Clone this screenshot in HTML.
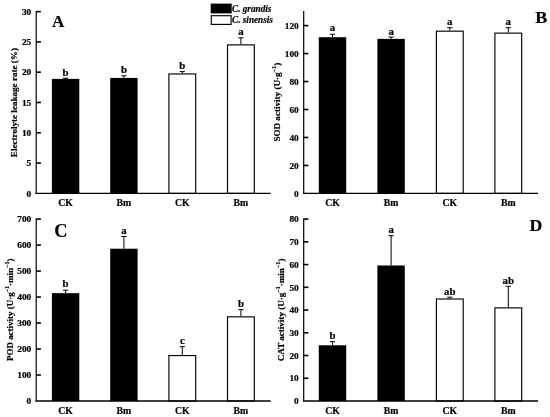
<!DOCTYPE html>
<html><head><meta charset="utf-8"><title>Figure</title>
<style>
html,body{margin:0;padding:0;background:#fff;}
svg{display:block;}
svg text{font-family:"Liberation Serif", "DejaVu Serif", serif;font-weight:bold;fill:#000;stroke:#000;stroke-width:0.2px;}
</style></head>
<body>
<svg width="550" height="417" viewBox="0 0 550 417">
<rect x="0" y="0" width="550" height="417" fill="#fff"/>
<rect x="51.90" y="78.87" width="27.40" height="114.53" fill="#000"/>
<line x1="65.60" y1="78.87" x2="65.60" y2="78.20" stroke="#000" stroke-width="1.0"/>
<line x1="63.00" y1="78.20" x2="68.20" y2="78.20" stroke="#000" stroke-width="1.0"/>
<text transform="translate(65.60,75.50) scale(1.0,1)" font-size="10.8" text-anchor="middle"  >b</text>
<rect x="110.20" y="77.96" width="27.40" height="115.44" fill="#000"/>
<line x1="123.90" y1="77.96" x2="123.90" y2="75.80" stroke="#000" stroke-width="1.0"/>
<line x1="121.30" y1="75.80" x2="126.50" y2="75.80" stroke="#000" stroke-width="1.0"/>
<text transform="translate(123.90,72.50) scale(1.0,1)" font-size="10.8" text-anchor="middle"  >b</text>
<rect x="168.90" y="73.96" width="26.80" height="119.44" fill="#fff" stroke="#000" stroke-width="1.15"/>
<line x1="182.30" y1="73.41" x2="182.30" y2="71.60" stroke="#000" stroke-width="1.0"/>
<line x1="179.70" y1="71.60" x2="184.90" y2="71.60" stroke="#000" stroke-width="1.0"/>
<text transform="translate(182.30,69.00) scale(1.0,1)" font-size="10.8" text-anchor="middle"  >b</text>
<rect x="227.50" y="44.87" width="26.80" height="148.53" fill="#fff" stroke="#000" stroke-width="1.15"/>
<line x1="240.90" y1="44.32" x2="240.90" y2="37.80" stroke="#000" stroke-width="1.0"/>
<line x1="238.30" y1="37.80" x2="243.50" y2="37.80" stroke="#000" stroke-width="1.0"/>
<text transform="translate(240.90,35.20) scale(1.0,1)" font-size="10.8" text-anchor="middle"  >a</text>
<line x1="36.20" y1="11.00" x2="36.20" y2="193.90" stroke="#000" stroke-width="1.2"/>
<line x1="35.60" y1="193.40" x2="270.70" y2="193.40" stroke="#000" stroke-width="1.4"/>
<text transform="translate(31.30,196.60) scale(1.08,1)" font-size="8.7" text-anchor="end"  >0</text>
<line x1="36.20" y1="163.10" x2="40.90" y2="163.10" stroke="#000" stroke-width="1.6"/>
<text transform="translate(31.30,166.30) scale(1.08,1)" font-size="8.7" text-anchor="end"  >5</text>
<line x1="36.20" y1="132.80" x2="40.90" y2="132.80" stroke="#000" stroke-width="1.6"/>
<text transform="translate(31.30,136.00) scale(1.08,1)" font-size="8.7" text-anchor="end"  >10</text>
<line x1="36.20" y1="102.50" x2="40.90" y2="102.50" stroke="#000" stroke-width="1.6"/>
<text transform="translate(31.30,105.70) scale(1.08,1)" font-size="8.7" text-anchor="end"  >15</text>
<line x1="36.20" y1="72.20" x2="40.90" y2="72.20" stroke="#000" stroke-width="1.6"/>
<text transform="translate(31.30,75.40) scale(1.08,1)" font-size="8.7" text-anchor="end"  >20</text>
<line x1="36.20" y1="41.90" x2="40.90" y2="41.90" stroke="#000" stroke-width="1.6"/>
<text transform="translate(31.30,45.10) scale(1.08,1)" font-size="8.7" text-anchor="end"  >25</text>
<line x1="36.20" y1="11.60" x2="40.90" y2="11.60" stroke="#000" stroke-width="1.6"/>
<text transform="translate(31.30,14.80) scale(1.08,1)" font-size="8.7" text-anchor="end"  >30</text>
<text transform="translate(65.60,206.30) scale(1.02,1)" font-size="9.6" text-anchor="middle"  >CK</text>
<text transform="translate(123.90,206.30) scale(1.02,1)" font-size="9.6" text-anchor="middle"  >Bm</text>
<text transform="translate(182.30,206.30) scale(1.02,1)" font-size="9.6" text-anchor="middle"  >CK</text>
<text transform="translate(240.90,206.30) scale(1.02,1)" font-size="9.6" text-anchor="middle"  >Bm</text>
<text transform="translate(17.30,102.60) rotate(-90) scale(1.046,1)" font-size="8.7" text-anchor="middle">Electrolyte leakage rate (%)</text>
<rect x="318.80" y="37.19" width="27.40" height="156.21" fill="#000"/>
<line x1="332.50" y1="37.19" x2="332.50" y2="34.30" stroke="#000" stroke-width="1.0"/>
<line x1="329.90" y1="34.30" x2="335.10" y2="34.30" stroke="#000" stroke-width="1.0"/>
<text transform="translate(332.50,31.20) scale(1.0,1)" font-size="10.8" text-anchor="middle"  >a</text>
<rect x="377.40" y="38.87" width="27.40" height="154.53" fill="#000"/>
<line x1="391.10" y1="38.87" x2="391.10" y2="37.00" stroke="#000" stroke-width="1.0"/>
<line x1="388.50" y1="37.00" x2="393.70" y2="37.00" stroke="#000" stroke-width="1.0"/>
<text transform="translate(391.10,34.80) scale(1.0,1)" font-size="10.8" text-anchor="middle"  >a</text>
<rect x="436.40" y="31.17" width="26.80" height="162.23" fill="#fff" stroke="#000" stroke-width="1.15"/>
<line x1="449.80" y1="30.62" x2="449.80" y2="27.70" stroke="#000" stroke-width="1.0"/>
<line x1="447.20" y1="27.70" x2="452.40" y2="27.70" stroke="#000" stroke-width="1.0"/>
<text transform="translate(449.80,25.00) scale(1.0,1)" font-size="10.8" text-anchor="middle"  >a</text>
<rect x="494.90" y="33.13" width="26.80" height="160.27" fill="#fff" stroke="#000" stroke-width="1.15"/>
<line x1="508.30" y1="32.58" x2="508.30" y2="27.70" stroke="#000" stroke-width="1.0"/>
<line x1="505.70" y1="27.70" x2="510.90" y2="27.70" stroke="#000" stroke-width="1.0"/>
<text transform="translate(508.30,25.00) scale(1.0,1)" font-size="10.8" text-anchor="middle"  >a</text>
<line x1="303.70" y1="11.00" x2="303.70" y2="193.90" stroke="#000" stroke-width="1.2"/>
<line x1="303.10" y1="193.40" x2="538.00" y2="193.40" stroke="#000" stroke-width="1.4"/>
<text transform="translate(298.80,196.60) scale(1.08,1)" font-size="8.7" text-anchor="end"  >0</text>
<line x1="303.70" y1="165.43" x2="308.40" y2="165.43" stroke="#000" stroke-width="1.6"/>
<text transform="translate(298.80,168.63) scale(1.08,1)" font-size="8.7" text-anchor="end"  >20</text>
<line x1="303.70" y1="137.46" x2="308.40" y2="137.46" stroke="#000" stroke-width="1.6"/>
<text transform="translate(298.80,140.66) scale(1.08,1)" font-size="8.7" text-anchor="end"  >40</text>
<line x1="303.70" y1="109.49" x2="308.40" y2="109.49" stroke="#000" stroke-width="1.6"/>
<text transform="translate(298.80,112.69) scale(1.08,1)" font-size="8.7" text-anchor="end"  >60</text>
<line x1="303.70" y1="81.52" x2="308.40" y2="81.52" stroke="#000" stroke-width="1.6"/>
<text transform="translate(298.80,84.72) scale(1.08,1)" font-size="8.7" text-anchor="end"  >80</text>
<line x1="303.70" y1="53.55" x2="308.40" y2="53.55" stroke="#000" stroke-width="1.6"/>
<text transform="translate(298.80,56.75) scale(1.08,1)" font-size="8.7" text-anchor="end"  >100</text>
<line x1="303.70" y1="25.58" x2="308.40" y2="25.58" stroke="#000" stroke-width="1.6"/>
<text transform="translate(298.80,28.78) scale(1.08,1)" font-size="8.7" text-anchor="end"  >120</text>
<text transform="translate(332.50,206.30) scale(1.02,1)" font-size="9.6" text-anchor="middle"  >CK</text>
<text transform="translate(391.10,206.30) scale(1.02,1)" font-size="9.6" text-anchor="middle"  >Bm</text>
<text transform="translate(449.80,206.30) scale(1.02,1)" font-size="9.6" text-anchor="middle"  >CK</text>
<text transform="translate(508.30,206.30) scale(1.02,1)" font-size="9.6" text-anchor="middle"  >Bm</text>
<text transform="translate(279.80,102.20) rotate(-90) scale(1.046,1)" font-size="8.7" text-anchor="middle">SOD activity (U·g<tspan font-size="5.9" dy="-3.6">−1</tspan><tspan dy="3.6" font-size="8.7">)</tspan></text>
<rect x="51.90" y="293.16" width="27.40" height="107.84" fill="#000"/>
<line x1="65.60" y1="293.16" x2="65.60" y2="290.20" stroke="#000" stroke-width="1.0"/>
<line x1="63.00" y1="290.20" x2="68.20" y2="290.20" stroke="#000" stroke-width="1.0"/>
<text transform="translate(65.60,287.20) scale(1.0,1)" font-size="10.8" text-anchor="middle"  >b</text>
<rect x="110.20" y="248.72" width="27.40" height="152.28" fill="#000"/>
<line x1="123.90" y1="248.72" x2="123.90" y2="236.50" stroke="#000" stroke-width="1.0"/>
<line x1="121.30" y1="236.50" x2="126.50" y2="236.50" stroke="#000" stroke-width="1.0"/>
<text transform="translate(123.90,233.60) scale(1.0,1)" font-size="10.8" text-anchor="middle"  >a</text>
<rect x="168.90" y="355.56" width="26.80" height="45.44" fill="#fff" stroke="#000" stroke-width="1.15"/>
<line x1="182.30" y1="355.01" x2="182.30" y2="346.70" stroke="#000" stroke-width="1.0"/>
<line x1="179.70" y1="346.70" x2="184.90" y2="346.70" stroke="#000" stroke-width="1.0"/>
<text transform="translate(182.30,344.00) scale(1.0,1)" font-size="10.8" text-anchor="middle"  >c</text>
<rect x="227.50" y="316.84" width="26.80" height="84.16" fill="#fff" stroke="#000" stroke-width="1.15"/>
<line x1="240.90" y1="316.29" x2="240.90" y2="309.60" stroke="#000" stroke-width="1.0"/>
<line x1="238.30" y1="309.60" x2="243.50" y2="309.60" stroke="#000" stroke-width="1.0"/>
<text transform="translate(240.90,306.90) scale(1.0,1)" font-size="10.8" text-anchor="middle"  >b</text>
<line x1="36.20" y1="218.50" x2="36.20" y2="401.50" stroke="#000" stroke-width="1.2"/>
<line x1="35.60" y1="401.00" x2="270.70" y2="401.00" stroke="#000" stroke-width="1.4"/>
<text transform="translate(31.30,404.20) scale(1.08,1)" font-size="8.7" text-anchor="end"  >0</text>
<line x1="36.20" y1="375.01" x2="40.90" y2="375.01" stroke="#000" stroke-width="1.6"/>
<text transform="translate(31.30,378.21) scale(1.08,1)" font-size="8.7" text-anchor="end"  >100</text>
<line x1="36.20" y1="349.03" x2="40.90" y2="349.03" stroke="#000" stroke-width="1.6"/>
<text transform="translate(31.30,352.23) scale(1.08,1)" font-size="8.7" text-anchor="end"  >200</text>
<line x1="36.20" y1="323.04" x2="40.90" y2="323.04" stroke="#000" stroke-width="1.6"/>
<text transform="translate(31.30,326.24) scale(1.08,1)" font-size="8.7" text-anchor="end"  >300</text>
<line x1="36.20" y1="297.06" x2="40.90" y2="297.06" stroke="#000" stroke-width="1.6"/>
<text transform="translate(31.30,300.26) scale(1.08,1)" font-size="8.7" text-anchor="end"  >400</text>
<line x1="36.20" y1="271.07" x2="40.90" y2="271.07" stroke="#000" stroke-width="1.6"/>
<text transform="translate(31.30,274.27) scale(1.08,1)" font-size="8.7" text-anchor="end"  >500</text>
<line x1="36.20" y1="245.09" x2="40.90" y2="245.09" stroke="#000" stroke-width="1.6"/>
<text transform="translate(31.30,248.29) scale(1.08,1)" font-size="8.7" text-anchor="end"  >600</text>
<line x1="36.20" y1="219.10" x2="40.90" y2="219.10" stroke="#000" stroke-width="1.6"/>
<text transform="translate(31.30,222.30) scale(1.08,1)" font-size="8.7" text-anchor="end"  >700</text>
<text transform="translate(65.60,413.90) scale(1.02,1)" font-size="9.6" text-anchor="middle"  >CK</text>
<text transform="translate(123.90,413.90) scale(1.02,1)" font-size="9.6" text-anchor="middle"  >Bm</text>
<text transform="translate(182.30,413.90) scale(1.02,1)" font-size="9.6" text-anchor="middle"  >CK</text>
<text transform="translate(240.90,413.90) scale(1.02,1)" font-size="9.6" text-anchor="middle"  >Bm</text>
<text transform="translate(12.60,309.75) rotate(-90) scale(1.03,1)" font-size="8.7" text-anchor="middle">POD activity (U·g<tspan font-size="5.9" dy="-3.6">−1</tspan><tspan dy="3.6" font-size="8.7">·min</tspan><tspan font-size="5.9" dy="-3.6">−1</tspan><tspan dy="3.6" font-size="8.7">)</tspan></text>
<rect x="318.80" y="345.29" width="27.40" height="55.71" fill="#000"/>
<line x1="332.50" y1="345.29" x2="332.50" y2="341.70" stroke="#000" stroke-width="1.0"/>
<line x1="329.90" y1="341.70" x2="335.10" y2="341.70" stroke="#000" stroke-width="1.0"/>
<text transform="translate(332.50,339.00) scale(1.0,1)" font-size="10.8" text-anchor="middle"  >b</text>
<rect x="377.40" y="265.48" width="27.40" height="135.52" fill="#000"/>
<line x1="391.10" y1="265.48" x2="391.10" y2="235.70" stroke="#000" stroke-width="1.0"/>
<line x1="388.50" y1="235.70" x2="393.70" y2="235.70" stroke="#000" stroke-width="1.0"/>
<text transform="translate(391.10,233.20) scale(1.0,1)" font-size="10.8" text-anchor="middle"  >a</text>
<rect x="436.40" y="299.00" width="26.80" height="102.00" fill="#fff" stroke="#000" stroke-width="1.15"/>
<line x1="449.80" y1="298.45" x2="449.80" y2="297.20" stroke="#000" stroke-width="1.0"/>
<line x1="447.20" y1="297.20" x2="452.40" y2="297.20" stroke="#000" stroke-width="1.0"/>
<text transform="translate(449.80,294.80) scale(1.0,1)" font-size="10.8" text-anchor="middle"  >ab</text>
<rect x="494.90" y="307.87" width="26.80" height="93.13" fill="#fff" stroke="#000" stroke-width="1.15"/>
<line x1="508.30" y1="307.32" x2="508.30" y2="286.30" stroke="#000" stroke-width="1.0"/>
<line x1="505.70" y1="286.30" x2="510.90" y2="286.30" stroke="#000" stroke-width="1.0"/>
<text transform="translate(508.30,283.60) scale(1.0,1)" font-size="10.8" text-anchor="middle"  >ab</text>
<line x1="303.70" y1="218.50" x2="303.70" y2="401.50" stroke="#000" stroke-width="1.2"/>
<line x1="303.10" y1="401.00" x2="538.00" y2="401.00" stroke="#000" stroke-width="1.4"/>
<text transform="translate(298.80,404.20) scale(1.08,1)" font-size="8.7" text-anchor="end"  >0</text>
<line x1="303.70" y1="378.26" x2="308.40" y2="378.26" stroke="#000" stroke-width="1.6"/>
<text transform="translate(298.80,381.46) scale(1.08,1)" font-size="8.7" text-anchor="end"  >10</text>
<line x1="303.70" y1="355.52" x2="308.40" y2="355.52" stroke="#000" stroke-width="1.6"/>
<text transform="translate(298.80,358.72) scale(1.08,1)" font-size="8.7" text-anchor="end"  >20</text>
<line x1="303.70" y1="332.79" x2="308.40" y2="332.79" stroke="#000" stroke-width="1.6"/>
<text transform="translate(298.80,335.99) scale(1.08,1)" font-size="8.7" text-anchor="end"  >30</text>
<line x1="303.70" y1="310.05" x2="308.40" y2="310.05" stroke="#000" stroke-width="1.6"/>
<text transform="translate(298.80,313.25) scale(1.08,1)" font-size="8.7" text-anchor="end"  >40</text>
<line x1="303.70" y1="287.31" x2="308.40" y2="287.31" stroke="#000" stroke-width="1.6"/>
<text transform="translate(298.80,290.51) scale(1.08,1)" font-size="8.7" text-anchor="end"  >50</text>
<line x1="303.70" y1="264.57" x2="308.40" y2="264.57" stroke="#000" stroke-width="1.6"/>
<text transform="translate(298.80,267.77) scale(1.08,1)" font-size="8.7" text-anchor="end"  >60</text>
<line x1="303.70" y1="241.84" x2="308.40" y2="241.84" stroke="#000" stroke-width="1.6"/>
<text transform="translate(298.80,245.04) scale(1.08,1)" font-size="8.7" text-anchor="end"  >70</text>
<line x1="303.70" y1="219.10" x2="308.40" y2="219.10" stroke="#000" stroke-width="1.6"/>
<text transform="translate(298.80,222.30) scale(1.08,1)" font-size="8.7" text-anchor="end"  >80</text>
<text transform="translate(332.50,413.90) scale(1.02,1)" font-size="9.6" text-anchor="middle"  >CK</text>
<text transform="translate(391.10,413.90) scale(1.02,1)" font-size="9.6" text-anchor="middle"  >Bm</text>
<text transform="translate(449.80,413.90) scale(1.02,1)" font-size="9.6" text-anchor="middle"  >CK</text>
<text transform="translate(508.30,413.90) scale(1.02,1)" font-size="9.6" text-anchor="middle"  >Bm</text>
<text transform="translate(283.60,309.90) rotate(-90) scale(1.04,1)" font-size="8.7" text-anchor="middle">CAT activity (U·g<tspan font-size="5.9" dy="-3.6">−1</tspan><tspan dy="3.6" font-size="8.7">·min</tspan><tspan font-size="5.9" dy="-3.6">−1</tspan><tspan dy="3.6" font-size="8.7">)</tspan></text>
<text transform="translate(58.10,27.20) scale(1.03,1)" font-size="16.5" text-anchor="middle"  >A</text>
<text transform="translate(541.20,22.70) scale(1.03,1)" font-size="17.5" text-anchor="middle"  >B</text>
<text transform="translate(60.80,237.00) scale(1.03,1)" font-size="17.8" text-anchor="middle"  >C</text>
<text transform="translate(535.90,231.40) scale(1.03,1)" font-size="17.2" text-anchor="middle"  >D</text>
<rect x="210.7" y="3.6" width="21" height="9.8" fill="#000"/>
<rect x="211.3" y="15.7" width="19.8" height="8.7" fill="#fff" stroke="#000" stroke-width="1.15"/>
<text transform="translate(232.00,12.00) scale(0.895,1)" font-size="10.3" text-anchor="start"  font-style="italic">C. grandis</text>
<text transform="translate(232.00,23.30) scale(0.895,1)" font-size="10.3" text-anchor="start"  font-style="italic">C. sinensis</text>
</svg>
</body></html>
